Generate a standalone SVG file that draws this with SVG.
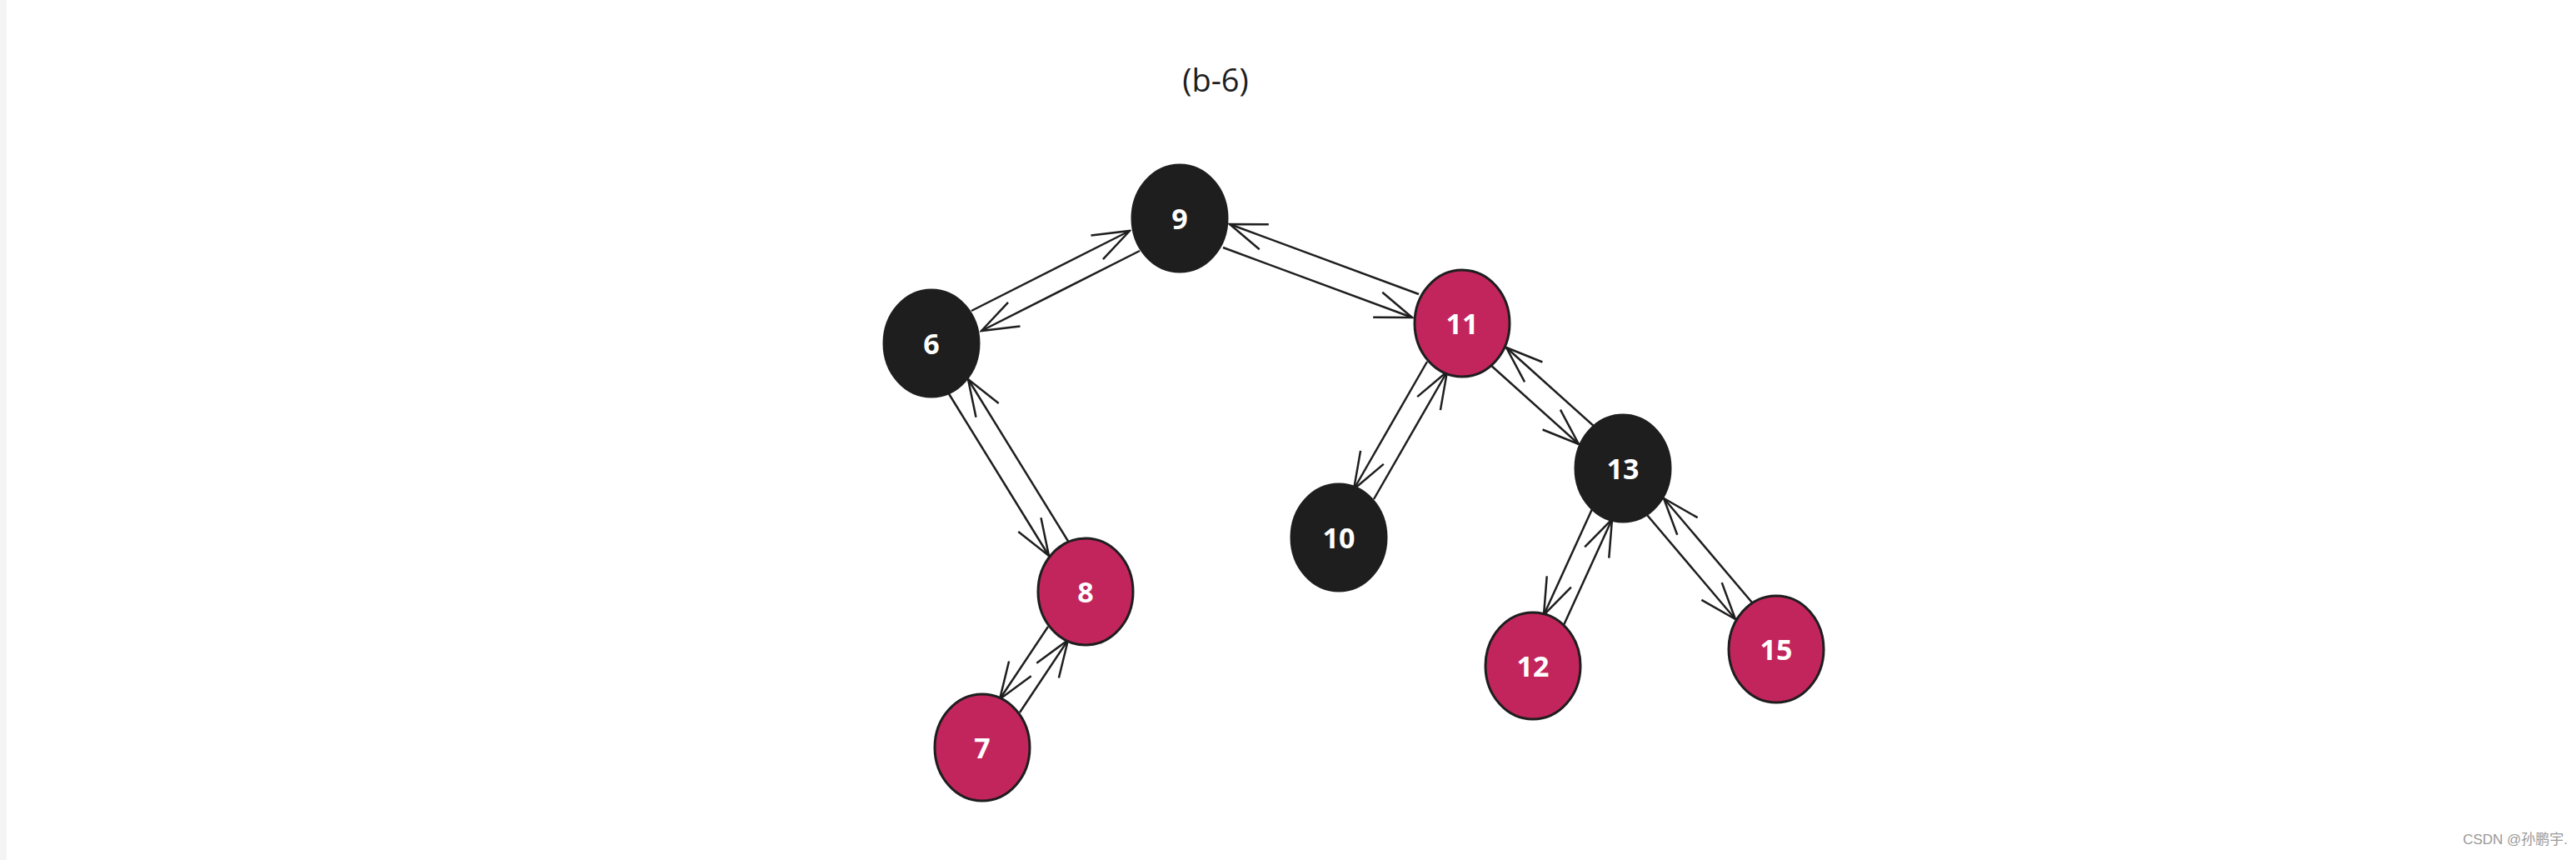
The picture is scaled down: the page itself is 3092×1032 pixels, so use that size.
<svg xmlns="http://www.w3.org/2000/svg" width="3092" height="1032" viewBox="0 0 3092 1032">
<style>
.blk{fill:#1e1e1e;stroke:#1e1e1e;stroke-width:3}
.red{fill:#c2255c;stroke:#1e1e1e;stroke-width:3}
.lbl{font-family:"Open Sans","Liberation Sans",sans-serif;font-weight:bold;font-size:34px;fill:#ffffff;text-anchor:middle;dominant-baseline:central}
.e{stroke:#1e1e1e;stroke-width:2.5;fill:none;marker-end:url(#ah)}
</style>
<defs>
<marker id="ah" markerUnits="userSpaceOnUse" markerWidth="50" markerHeight="40" viewBox="0 0 50 40" refX="48" refY="20" orient="auto">
<path d="M4,4 L48,20 L4,36" fill="none" stroke="#1e1e1e" stroke-width="2.5"/>
</marker>
</defs>
<rect width="3092" height="1032" fill="#ffffff"/>
<rect x="0" y="0" width="8" height="1032" fill="#f4f4f4"/>
<text x="1459" y="95" font-family="'Comic Sans MS','Open Sans',sans-serif" font-size="38" fill="#1e1e1e" text-anchor="middle" dominant-baseline="central">(b-6)</text>
<g id="connectors">
<line class="e" x1="1368" y1="301" x2="1178" y2="397"/>
<line class="e" x1="1166" y1="373" x2="1356" y2="277"/>
<line class="e" x1="1468" y1="297" x2="1695" y2="381"/>
<line class="e" x1="1703" y1="353" x2="1476" y2="269"/>
<line class="e" x1="1138" y1="471" x2="1259" y2="667"/>
<line class="e" x1="1283" y1="651" x2="1162" y2="455"/>
<line class="e" x1="1258" y1="752" x2="1200" y2="839"/>
<line class="e" x1="1224" y1="855" x2="1282" y2="768"/>
<line class="e" x1="1713" y1="434" x2="1625" y2="587"/>
<line class="e" x1="1649" y1="599" x2="1737" y2="446"/>
<line class="e" x1="1788" y1="437" x2="1895" y2="533"/>
<line class="e" x1="1915" y1="513" x2="1808" y2="417"/>
<line class="e" x1="1911" y1="611" x2="1853" y2="738"/>
<line class="e" x1="1877" y1="750" x2="1935" y2="623"/>
<line class="e" x1="1977" y1="618" x2="2083" y2="743"/>
<line class="e" x1="2103" y1="723" x2="1997" y2="598"/>
</g>
<g id="n9"><ellipse class="blk" cx="1416" cy="262" rx="57" ry="64"/><text class="lbl" x="1416" y="262">9</text></g>
<g id="n6"><ellipse class="blk" cx="1118" cy="412" rx="57" ry="64"/><text class="lbl" x="1118" y="412">6</text></g>
<g id="n11"><ellipse class="red" cx="1755" cy="388" rx="57" ry="64"/><text class="lbl" x="1755" y="388">11</text></g>
<g id="n13"><ellipse class="blk" cx="1948" cy="562" rx="57" ry="64"/><text class="lbl" x="1948" y="562">13</text></g>
<g id="n10"><ellipse class="blk" cx="1607" cy="645" rx="57" ry="64"/><text class="lbl" x="1607" y="645">10</text></g>
<g id="n8"><ellipse class="red" cx="1303" cy="710" rx="57" ry="64"/><text class="lbl" x="1303" y="710">8</text></g>
<g id="n7"><ellipse class="red" cx="1179" cy="897" rx="57" ry="64"/><text class="lbl" x="1179" y="897">7</text></g>
<g id="n12"><ellipse class="red" cx="1840" cy="799" rx="57" ry="64"/><text class="lbl" x="1840" y="799">12</text></g>
<g id="n15"><ellipse class="red" cx="2132" cy="779" rx="57" ry="64"/><text class="lbl" x="2132" y="779">15</text></g>
<text x="3082" y="1013" font-family="'Liberation Sans','Noto Sans CJK SC',sans-serif" font-size="17" fill="#999999" text-anchor="end">CSDN @孙鹏宇.</text>
</svg>
